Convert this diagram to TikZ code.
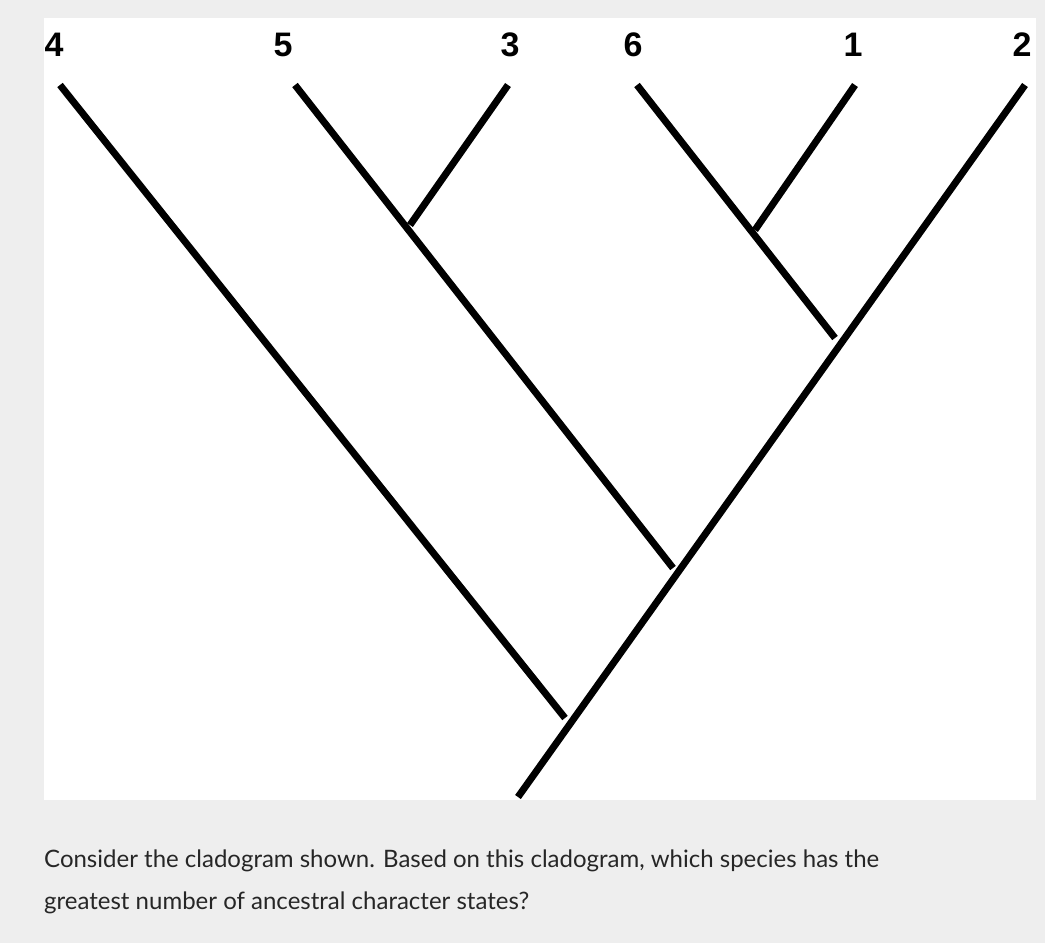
\documentclass[tikz,border=0pt]{standalone}
\usepackage{fontspec}
\setmainfont{Lato}
\newfontfamily\lab{Liberation Sans}
\begin{document}
\begin{tikzpicture}[x=1pt,y=-1pt,
  br/.style={line width=7pt,black},
  lbl/.style={font=\lab\bfseries\fontsize{34}{34}\selectfont,inner sep=0pt}]
\useasboundingbox (0,0) rectangle (1045,943);
\fill[gray!13] (0,0) rectangle (1045,943);
\fill[white] (44,18) rectangle (1036,800);
\coordinate (r) at (518,797);
\coordinate (a) at (565,718);
\coordinate (b) at (673,568);
\coordinate (c) at (835,338);
\coordinate (d) at (410,225);
\coordinate (e) at (755,230);
\coordinate (t4) at (60,85);
\coordinate (t5) at (295,85);
\coordinate (t3) at (508,85);
\coordinate (t6) at (637,85);
\coordinate (t1) at (855,85);
\coordinate (t2) at (1025,85);
\draw[br] (r) -- (t2);
\draw[br] (a) -- (t4);
\draw[br] (b) -- (t5);
\draw[br] (d) -- (t3);
\draw[br] (c) -- (t6);
\draw[br] (e) -- (t1);
\node[lbl] (l4) at (54,45) {4};
\node[lbl] (l5) at (283,45) {5};
\node[lbl] (l3) at (510,45) {3};
\node[lbl] (l6) at (633,45) {6};
\node[lbl] (l1) at (853,45) {1};
\node[lbl] (l2) at (1022,45) {2};
\node[anchor=north west,align=left,inner sep=0pt,font=\fontsize{24}{42}\selectfont,text=black!85] (q) at (44,850)
{Consider the cladogram shown. Based on this cladogram, which species has the\\greatest number of ancestral character states?};
\end{tikzpicture}
\end{document}
